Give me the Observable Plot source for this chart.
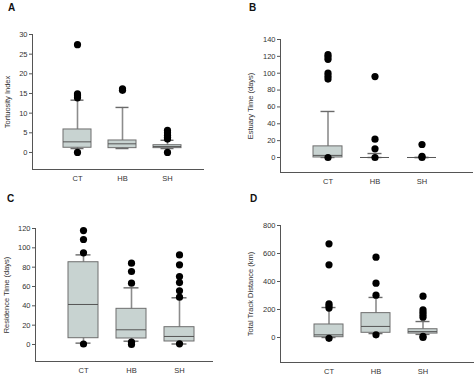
<!DOCTYPE html>
<html>
<head>
<meta charset="utf-8">
<script src="https://cdn.jsdelivr.net/npm/d3@7"></script>
<script src="https://cdn.jsdelivr.net/npm/@observablehq/plot@0.6"></script>
<style>
  html, body { margin: 0; padding: 0; background: #fff; }
  #root { position: relative; width: 474px; height: 375px; overflow: hidden; font-family: "Liberation Sans", Arial, sans-serif; }
  .panel { position: absolute; }
  .panel svg { display: block; }
  .plabel { position: absolute; font-weight: bold; font-size: 10px; line-height: 10px; color: #111; }
</style>
</head>
<body>
<div id="root"></div>
<script>
const categories = ["CT", "HB", "SH"];

// Panel A: Tortuosity Index
const tortLow  = [1.0, 1.0, 1.0];
const tortQ1   = [1.2, 1.1, 1.1];
const tortMed  = [2.7, 2.2, 1.5];
const tortQ3   = [5.85, 3.05, 1.85];
const tortHigh = [13.3, 11.45, 3.1];
const tortOutCat = ["CT","CT","CT","CT","CT","HB","HB","SH","SH","SH","SH","SH","SH"];
const tortOutVal = [27.4, 14.9, 14.4, 13.9, 0, 16.2, 15.8, 5.6, 5.0, 4.4, 3.9, 3.4, 0];
const tortTicks = [0, 5, 10, 15, 20, 25, 30];

// Panel B: Estuary Time (days)
const estLow  = [0, 0, 0];
const estQ1   = [0, 0, 0];
const estMed  = [2.5, 0, 0];
const estQ3   = [13.2, 0, 0];
const estHigh = [54.6, 4.7, 0];
const estOutCat = ["CT","CT","CT","CT","CT","CT","CT","HB","HB","HB","HB","SH","SH","SH"];
const estOutVal = [122, 119.5, 116.5, 100, 96.5, 93, 0, 96, 21.7, 10.3, 0, 15.4, 1.5, 0];
const estTicks = [0, 20, 40, 60, 80, 100, 120, 140];

// Panel C: Residence Time (days)
const resLow  = [1.4, 3.4, 0.5];
const resQ1   = [6.5, 6.2, 3.1];
const resMed  = [41.4, 15.2, 8.3];
const resQ3   = [85.1, 36.9, 17.9];
const resHigh = [92.7, 58.6, 48.3];
const resOutCat = ["CT","CT","CT","CT","HB","HB","HB","HB","HB","SH","SH","SH","SH","SH","SH","SH"];
const resOutVal = [117.9, 108.6, 94.8, 0.5, 84.1, 75.5, 63.4, 2.4, 0, 92.7, 82.4, 70.3, 64.1, 55.5, 48.9, 0.7];
const resTicks = [0, 20, 40, 60, 80, 100, 120];

// Panel D: Total Track Distance (km)
const trackLow  = [0, 28, 22];
const trackQ1   = [2, 33.6, 28];
const trackMed  = [19, 79, 42];
const trackQ3   = [93, 174, 59];
const trackHigh = [214, 286, 114];
const trackOutCat = ["CT","CT","CT","CT","CT","CT","HB","HB","HB","HB","SH","SH","SH","SH","SH","SH","SH"];
const trackOutVal = [669, 519, 241, 226, 210, -6, 574, 388, 302, 19, 295, 198, 180, 162, 145, 8, 0];
const trackTicks = [0, 200, 400, 600, 800];

function boxRows(low, q1, med, q3, high) {
  return categories.map((c, i) => ({cat: c, low: low[i], q1: q1[i], med: med[i], q3: q3[i], high: high[i]}));
}
function outRows(cats, vals) {
  return cats.map((c, i) => ({cat: c, v: vals[i]}));
}

const panels = [
  {letter: "A", left: 0, top: 0, w: 237, h: 187, lx: 8, ly: 3,
   mL: 32, mR: 34, mT: 34, mB: 18, xr: [54.1, 189.6], yd: [-4.33, 30], ticks: tortTicks,
   label: "Tortuosity Index", lo: 28,
   box: boxRows(tortLow, tortQ1, tortMed, tortQ3, tortHigh), out: outRows(tortOutCat, tortOutVal)},
  {letter: "B", left: 237, top: 0, w: 237, h: 187, lx: 12, ly: 3,
   mL: 43, mR: 2, mT: 39, mB: 15, xr: [66.25, 208.75], yd: [-17.8, 140], ticks: estTicks,
   label: "Estuary Time (days)", lo: 33,
   box: boxRows(estLow, estQ1, estMed, estQ3, estHigh), out: outRows(estOutCat, estOutVal)},
  {letter: "C", left: 0, top: 187, w: 237, h: 188, lx: 7, ly: 7,
   mL: 35, mR: 25, mT: 41, mB: 14, xr: [58.8, 202.8], yd: [-17.6, 120], ticks: resTicks,
   label: "Residence Time (days)", lo: 32,
   box: boxRows(resLow, resQ1, resMed, resQ3, resHigh), out: outRows(resOutCat, resOutVal)},
  {letter: "D", left: 237, top: 187, w: 237, h: 188, lx: 13, ly: 7,
   mL: 43, mR: 0, mT: 38, mB: 13, xr: [67.05, 210.75], yd: [-178.6, 800], ticks: trackTicks,
   label: "Total Track Distance (km)", lo: 33,
   box: boxRows(trackLow, trackQ1, trackMed, trackQ3, trackHigh), out: outRows(trackOutCat, trackOutVal)}
];

const root = document.getElementById("root");
const font = "Liberation Sans, Arial, sans-serif";

for (const p of panels) {
  const div = document.createElement("div");
  div.className = "panel";
  div.style.left = p.left + "px";
  div.style.top = p.top + "px";
  div.style.width = p.w + "px";
  div.style.height = p.h + "px";

  const chart = Plot.plot({
    width: p.w,
    height: p.h,
    marginLeft: p.mL,
    marginRight: p.mR,
    marginTop: p.mT,
    marginBottom: p.mB,
    style: {fontFamily: font, fontSize: "7.5px", color: "#333", background: "transparent", overflow: "visible"},
    x: {domain: categories, range: p.xr, paddingInner: 0.38, paddingOuter: 0.19, axis: null},
    y: {domain: p.yd, axis: null},
    marks: [
      Plot.frame({anchor: "left", stroke: "#555"}),
      Plot.frame({anchor: "bottom", stroke: "#555"}),
      Plot.axisY({ticks: p.ticks, tickSize: 3, tickPadding: 2, stroke: "#555", fill: "#333", label: p.label,
                  labelAnchor: "center", labelArrow: "none", labelOffset: p.lo, fontSize: 7.5}),
      Plot.axisX({tickSize: 0, tickPadding: 6, label: null, fill: "#333", fontSize: 7.5}),
      Plot.ruleX(p.box, {x: "cat", y1: "low", y2: "high", stroke: "#8c8c8c", strokeWidth: 1.6}),
      Plot.tickY(p.box, {x: "cat", y: "high", stroke: "#6a6a6a", strokeWidth: 1.4, insetLeft: 7.5, insetRight: 7.5}),
      Plot.tickY(p.box, {x: "cat", y: "low", stroke: "#6a6a6a", strokeWidth: 1.4, insetLeft: 7.5, insetRight: 7.5}),
      Plot.barY(p.box, {x: "cat", y1: "q1", y2: "q3", fill: "#c8d3d1", stroke: "#6e6e6e", strokeWidth: 1}),
      Plot.tickY(p.box, {x: "cat", y: "med", stroke: "#555", strokeWidth: 1}),
      Plot.dot(p.out, {x: "cat", y: "v", r: 3.6, fill: "#000", stroke: "none"})
    ]
  });
  div.appendChild(chart);

  const lab = document.createElement("div");
  lab.className = "plabel";
  lab.textContent = p.letter;
  lab.style.left = p.lx + "px";
  lab.style.top = p.ly + "px";
  div.appendChild(lab);

  root.appendChild(div);
}
</script>
</body>
</html>
